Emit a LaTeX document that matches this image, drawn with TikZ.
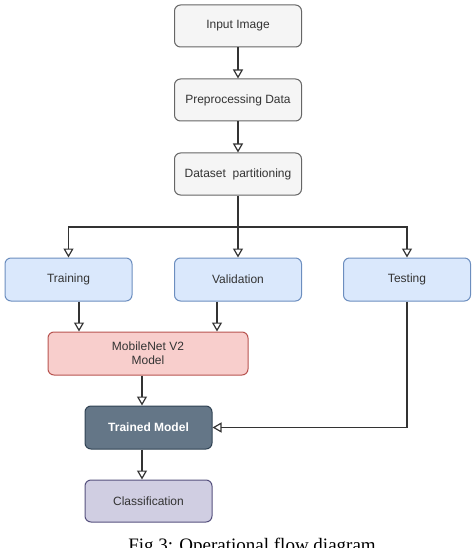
\documentclass[tikz,border=0pt]{standalone}
\usepackage{fontspec}
\setmainfont{Liberation Sans}
\newfontfamily\capfont{Liberation Serif}
\usetikzlibrary{arrows.meta,calc}
\definecolor{grayfill}{HTML}{F5F5F5}
\definecolor{graystroke}{HTML}{666666}
\definecolor{bluefill}{HTML}{DAE8FC}
\definecolor{bluestroke}{HTML}{6C8EBF}
\definecolor{redfill}{HTML}{F8CECC}
\definecolor{redstroke}{HTML}{B85450}
\definecolor{darkfill}{HTML}{647687}
\definecolor{darkstroke}{HTML}{314354}
\definecolor{purplefill}{HTML}{D0CEE2}
\definecolor{purplestroke}{HTML}{56517E}
\definecolor{txt}{HTML}{333333}
\definecolor{linecol}{HTML}{333333}
\begin{document}
\begin{tikzpicture}[x=1pt,y=-1pt,
  box/.style={rounded corners=6pt, line width=1pt, inner sep=0pt, minimum width=127pt, minimum height=42pt, align=center, font=\fontsize{12}{14}\selectfont, text=txt},
  graybox/.style={box, fill=grayfill, draw=graystroke},
  bluebox/.style={box, fill=bluefill, draw=bluestroke},
  redbox/.style={box, fill=redfill, draw=redstroke},
  darkbox/.style={box, fill=darkfill, draw=darkstroke, text=white, font=\fontsize{12}{14}\selectfont\bfseries},
  purplebox/.style={box, fill=purplefill, draw=purplestroke},
  arr/.style={draw=linecol, line width=1.2pt, -{Triangle[open, length=9pt, width=10pt, fill=white]}},
  conn/.style={draw=linecol, line width=1.2pt}
]
\useasboundingbox (0,0) rectangle (474,548);
\clip (0,0) rectangle (474,548);
\node[graybox] (inp) at (238,26) {Input Image};
\node[graybox] (pre) at (238,100) {Preprocessing Data};
\node[graybox] (ds) at (238,174) {Dataset\ \ partitioning};
\node[bluebox, minimum height=43pt] (train) at (68.5,279.5) {Training};
\node[bluebox, minimum height=43pt] (val) at (238,279.5) {Validation};
\node[bluebox, minimum height=43pt] (test) at (407,279.5) {Testing};
\node[redbox, minimum width=200pt, minimum height=43pt] (mob) at (148,353.5) {MobileNet V2\\Model};
\node[darkbox, minimum height=43pt] (tm) at (148.5,427.5) {Trained Model};
\node[purplebox, minimum height=42pt] (cls) at (148.5,501) {Classification};
\node[font=\capfont\fontsize{19}{22}\selectfont, anchor=base, text=black] (cap) at (252,551.5) {Fig 3: Operational flow diagram};

\coordinate (j) at (238,227);
\draw[arr] (inp) -- (pre);
\draw[arr] (pre) -- (ds);
\draw[arr] (ds) -- (val);
\draw[arr] (j) -| (train.north);
\draw[arr] (j) -| (test.north);
\draw[arr] ([xshift=10.5pt]train.south) -- ([xshift=10.5pt]train.south |- mob.north);
\draw[arr] ([xshift=-21pt]val.south) -- ([xshift=-21pt]val.south |- mob.north);
\draw[arr] ([xshift=-6pt]mob.south) -- ([xshift=-6pt]mob.south |- tm.north);
\draw[arr] ([xshift=-6.5pt]tm.south) -- ([xshift=-6.5pt]tm.south |- cls.north);
\draw[arr] (test.south) |- (tm.east);
\end{tikzpicture}
\end{document}
